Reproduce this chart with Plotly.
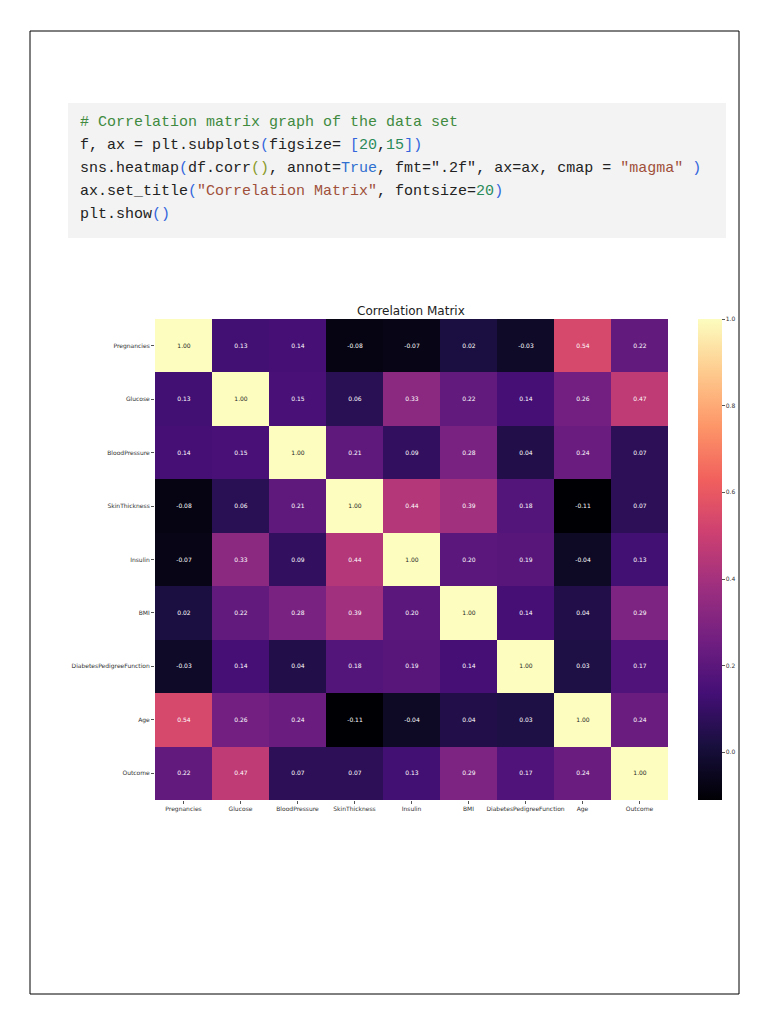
import plotly.graph_objects as go

labels = ["Pregnancies", "Glucose", "BloodPressure", "SkinThickness", "Insulin",
          "BMI", "DiabetesPedigreeFunction", "Age", "Outcome"]

pregnancies = [1.00, 0.13, 0.14, -0.08, -0.07, 0.02, -0.03, 0.54, 0.22]
glucose = [0.13, 1.00, 0.15, 0.06, 0.33, 0.22, 0.14, 0.26, 0.47]
blood_pressure = [0.14, 0.15, 1.00, 0.21, 0.09, 0.28, 0.04, 0.24, 0.07]
skin_thickness = [-0.08, 0.06, 0.21, 1.00, 0.44, 0.39, 0.18, -0.11, 0.07]
insulin = [-0.07, 0.33, 0.09, 0.44, 1.00, 0.20, 0.19, -0.04, 0.13]
bmi = [0.02, 0.22, 0.28, 0.39, 0.20, 1.00, 0.14, 0.04, 0.29]
dpf = [-0.03, 0.14, 0.04, 0.18, 0.19, 0.14, 1.00, 0.03, 0.17]
age = [0.54, 0.26, 0.24, -0.11, -0.04, 0.04, 0.03, 1.00, 0.24]
outcome = [0.22, 0.47, 0.07, 0.07, 0.13, 0.29, 0.17, 0.24, 1.00]

colorbar_ticks = [0.0, 0.2, 0.4, 0.6, 0.8, 1.0]

z = [pregnancies, glucose, blood_pressure, skin_thickness, insulin, bmi, dpf, age, outcome]

# cell labels: dark text on light cells, white text on dark cells
cell_text = [[f"<span style='fill:{'#262626' if v > 0.7 else '#ffffff'}'>{v:.2f}</span>"
              for v in row] for row in z]

W, H = 768, 1024
OFF = 8  # page body margin in the browser
def px(x): return (x - OFF) / W
def py(y): return 1 - (y - OFF) / H

fig = go.Figure()
fig.add_trace(go.Heatmap(
    z=z, x=labels, y=labels,
    text=cell_text,
    colorscale="Magma",
    zmin=-0.11, zmax=1.0,
    texttemplate="%{text}",
    textfont=dict(size=6, family="DejaVu Sans", color="#ffffff"),
    xgap=0, ygap=0,
    colorbar=dict(
        x=px(698), xanchor="left", xref="paper",
        y=py(319), yanchor="top", yref="paper",
        len=(800 - 319) / H, lenmode="fraction",
        thickness=24, thicknessmode="pixels",
        xpad=0, ypad=0,
        outlinewidth=0,
        tickvals=colorbar_ticks,
        ticktext=[f"{v:.1f}" for v in colorbar_ticks],
        ticks="outside", ticklen=3, tickcolor="#555",
        tickfont=dict(size=6, color="#333", family="DejaVu Sans"),
    ),
))

fig.update_xaxes(domain=[px(155), px(668)], showgrid=False, zeroline=False,
                 ticks="outside", ticklen=3, tickcolor="#555",
                 tickfont=dict(size=6, color="#333", family="DejaVu Sans"),
                 tickangle=0)
fig.update_yaxes(domain=[py(800), py(319)], showgrid=False, zeroline=False,
                 autorange="reversed",
                 ticks="outside", ticklen=3, tickcolor="#555",
                 tickfont=dict(size=6, color="#333", family="DejaVu Sans"))

# page border and code block
shapes = [
    dict(type="rect", xref="paper", yref="paper", x0=px(30), x1=px(739), y0=py(994), y1=py(31),
         line=dict(color="black", width=1), fillcolor="rgba(0,0,0,0)", layer="below"),
    dict(type="rect", xref="paper", yref="paper", x0=px(68), x1=px(726), y0=py(238), y1=py(103),
         line=dict(width=0), fillcolor="#f3f3f3", layer="below"),
]

C_COM = "#3f8a3f"
C_TXT = "#222222"
C_PAR = "#3366dd"
C_PAR2 = "#8a9a2a"
C_NUM = "#2a8a5a"
C_KW = "#2f6fd0"
C_STR = "#a0503a"

def s(t, c):
    t = t.replace(" ", "&nbsp;")
    return f"<span style='color:{c}'>{t}</span>"

code_lines = [
    s("# Correlation matrix graph of the data set", C_COM),
    s("f, ax = plt.subplots", C_TXT) + s("(", C_PAR) + s("figsize= ", C_TXT) + s("[", C_PAR)
    + s("20", C_NUM) + s(",", C_TXT) + s("15", C_NUM) + s("])", C_PAR),
    s("sns.heatmap", C_TXT) + s("(", C_PAR) + s("df.corr", C_TXT) + s("()", C_PAR2)
    + s(", annot=", C_TXT) + s("True", C_KW) + s(', fmt=".2f", ax=ax, cmap = ', C_TXT)
    + s('"magma"', C_STR) + s(" ", C_TXT) + s(")", C_PAR),
    s("ax.set_title", C_TXT) + s("(", C_PAR) + s('"Correlation Matrix"', C_STR)
    + s(", fontsize=", C_TXT) + s("20", C_NUM) + s(")", C_PAR),
    s("plt.show", C_TXT) + s("()", C_PAR),
]
line_y = [122, 145, 168, 191, 214]

annotations = []
for t, yy in zip(code_lines, line_y):
    annotations.append(dict(text=t, xref="paper", yref="paper", x=px(78), y=py(yy),
                            xanchor="left", yanchor="middle", showarrow=False,
                            font=dict(family="Liberation Mono", size=15, color=C_TXT)))

annotations.append(dict(text="Correlation Matrix", xref="paper", yref="paper",
                        x=px(411), y=py(311), xanchor="center", yanchor="middle",
                        showarrow=False,
                        font=dict(family="DejaVu Sans", size=12, color="#222")))

fig.update_layout(
    width=W, height=H,
    margin=dict(l=0, r=0, t=0, b=0),
    paper_bgcolor="white", plot_bgcolor="white",
    shapes=shapes, annotations=annotations,
    showlegend=False,
)

fig.write_html("out.html")
